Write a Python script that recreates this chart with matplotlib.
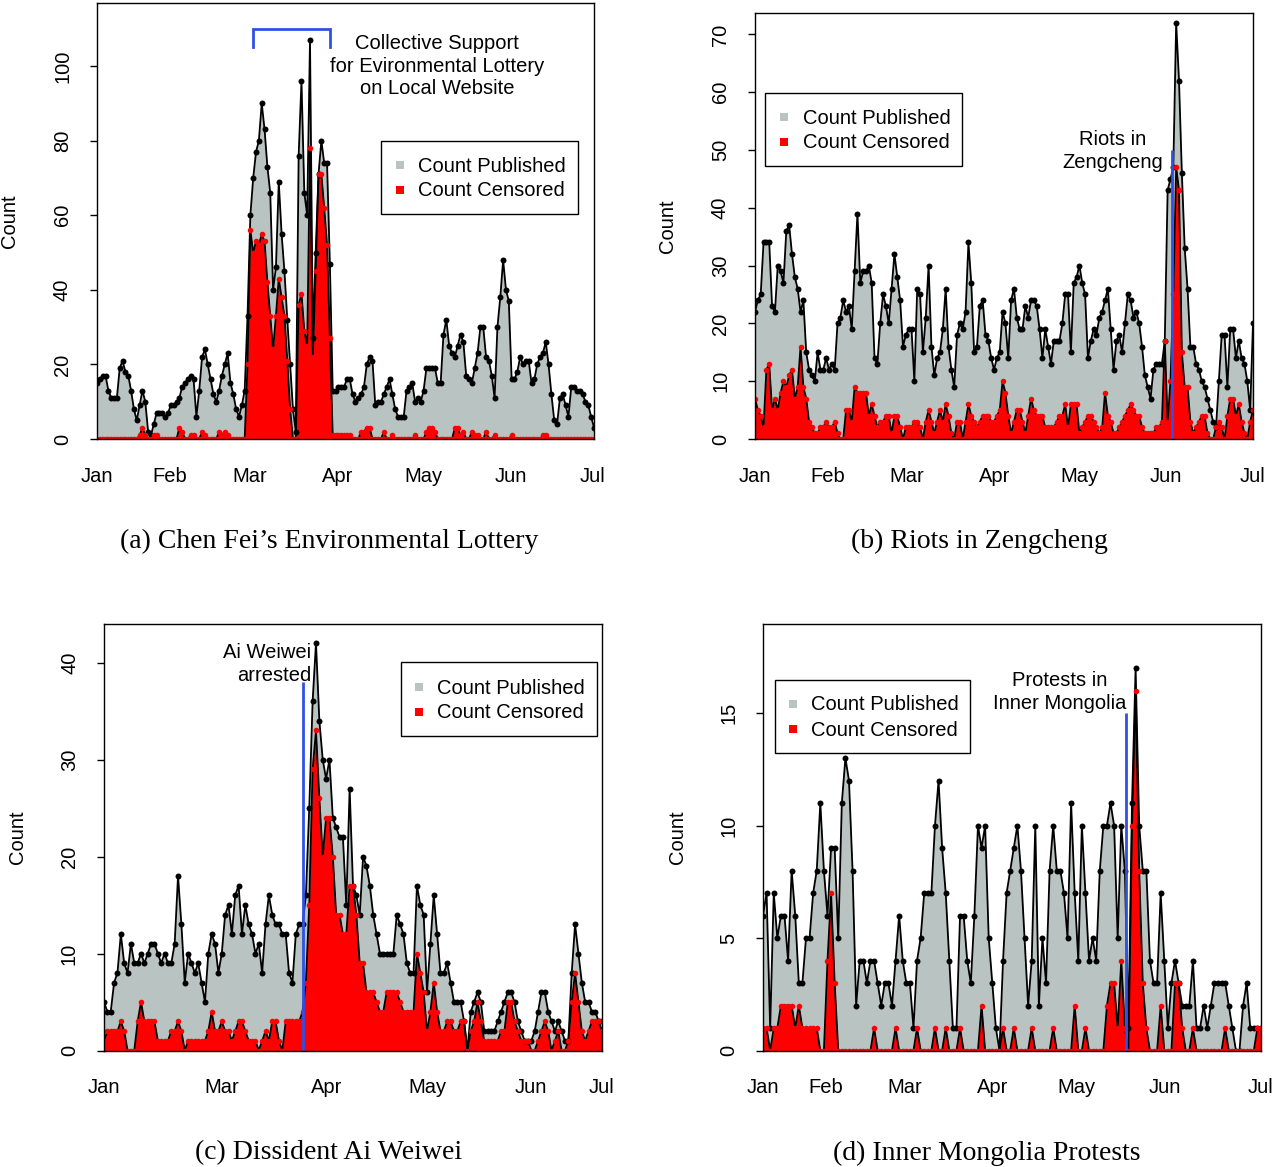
import numpy as np
import matplotlib
matplotlib.use("Agg")
import matplotlib.pyplot as plt
from matplotlib.lines import Line2D
from matplotlib.patches import Rectangle

# ---------------- data ----------------
a_published = [15,16,17,17,13,11,11,11,19,21, 18,17,13,8,5,9,13,10,2,1,
               4,7,7,7,6,7,9,9,10,11, 14,15,16,17,16,6,13,22,24,20,
               16,12,10,13,17,20,23,15,12,8, 6,9,13,33,60,70,77,80,90,83,
               73,66,40,46,69,55,45,32,20,8, 2,76,96,66,60,107,27,50,71,80,
               74,74,47,13,13,14,14,14,16,16, 12,10,11,12,14,20,22,21,9,10,
               10,12,14,16,12,8,6,6,6,13, 14,15,10,11,10,13,19,19,19,19,
               15,15,28,32,25,23,22,25,28,26, 17,16,15,19,23,30,30,22,21,17,
               11,30,38,48,40,37,16,16,18,22, 20,21,21,15,16,20,22,23,26,20,
               12,5,4,11,12,9,6,14,14,13, 13,12,10,9,6,3]
a_censored = [0,0,0,0,0,0,0,0,0,0, 0,0,0,0,0,1,3,1,0,0,
              1,1,0,0,0,0,0,0,0,3, 2,0,0,1,1,0,0,2,1,0,
              0,0,0,2,1,2,1,0,0,0, 0,0,0,20,56,50,53,52,55,53,
              42,33,24,33,43,38,33,21,8,0, 0,36,39,29,25,78,22,45,71,71,
              62,52,27,1,1,1,1,1,1,1, 0,0,0,2,2,3,3,0,0,0,
              0,2,0,0,1,0,0,0,0,0, 0,0,1,0,0,0,2,3,3,2,
              0,0,0,0,0,0,3,3,1,2, 0,0,2,1,1,0,0,2,0,0,
              1,0,0,0,0,0,1,0,0,0, 0,0,0,0,0,0,0,1,1,0,
              0,0,0,0,0,0,0,0,0,0, 0,0,0,0,0,0]

b_published = [22,24,25,34,34,34,23,22,30,29, 27,36,37,32,28,26,22,24,15,12,
               11,10,15,12,12,14,12,13,12,20, 21,24,22,23,19,29,39,27,29,29,
               30,27,14,13,20,25,23,20,26,32, 28,24,16,18,19,19,10,26,25,15,
               21,30,16,11,14,15,19,26,16,12, 9,18,20,19,22,34,27,15,16,23,
               24,18,17,14,12,14,15,22,20,14, 24,26,21,19,19,23,21,24,24,23,
               19,14,19,16,13,17,17,17,20,25, 25,15,27,28,30,27,25,14,17,19,
               18,21,22,24,26,19,12,17,18,15, 20,25,24,21,22,20,16,11,9,7,
               12,13,13,13,17,43,45,47,72,62, 46,33,26,16,16,13,12,10,9,7,
               5,3,2,10,18,18,9,19,19,14, 17,14,13,10,5,20]
b_censored = [7,5,4,2,12,13,5,7,5,8, 10,9,11,12,7,9,16,9,7,3,
              2,1,1,2,2,3,2,2,3,1, 0,0,5,5,3,9,8,8,8,8,
              4,6,4,2,3,3,4,4,1,4, 4,2,0,2,2,2,3,3,2,0,
              3,5,3,1,3,5,3,6,4,1, 0,3,3,0,3,6,4,3,2,3,
              4,4,4,3,3,4,5,10,8,4, 1,3,5,5,3,1,4,7,5,4,
              4,4,2,2,2,2,3,4,4,6, 2,6,6,6,1,2,3,4,4,3,
              2,1,2,8,4,3,1,1,2,3, 4,5,6,5,4,4,2,1,1,1,
              1,2,2,3,17,3,10,25,47,43, 15,9,9,3,1,2,3,4,4,1,
              0,0,2,3,2,0,4,7,7,4, 6,3,1,0,3,5]

c_published = [5,4,4,7,8,12,9,8,11,9, 9,10,9,10,11,11,10,9,10,9,
               9,11,18,13,7,10,9,8,9,7, 5,10,12,11,8,10,14,15,12,16,
               17,12,15,13,12,10,11,8,13,16, 14,13,13,12,12,8,7,12,13,13,
               16,25,36,42,34,30,28,30,24,23, 22,22,15,27,17,16,14,20,19,17,
               14,12,10,10,10,10,10,14,13,12, 9,8,8,17,15,14,6,11,16,12,
               8,8,9,7,5,5,5,3,0,4, 5,6,5,2,2,2,2,3,4,5,
               6,6,5,3,2,1,1,1,2,4, 6,6,4,3,2,3,2,1,1,8,
               13,10,7,5,5,4,4,3,3]
c_censored = [1,2,2,2,2,3,2,0,0,0, 3,5,3,3,3,3,1,1,1,1,
              2,2,3,2,0,1,1,1,1,1, 1,2,4,2,2,3,2,2,1,2,
              3,3,2,1,1,1,0,1,2,1, 3,3,1,0,3,3,3,3,3,4,
              7,15,29,33,26,20,24,24,20,14, 14,12,12,17,17,14,9,9,6,6,
              6,5,4,4,6,6,6,6,5,4, 4,4,4,10,8,6,2,4,7,4,
              2,2,3,3,2,2,3,3,0,2, 3,5,3,1,1,1,1,1,2,2,
              5,5,3,2,1,1,1,0,0,1, 2,3,2,0,1,2,0,0,1,5,
              8,5,2,1,2,3,3,3,2]

d_published = [6,7,1,7,5,6,6,4,8,6, 3,3,5,5,7,8,11,8,6,9,
               9,5,11,13,12,8,2,4,4,3, 4,4,3,2,3,3,2,4,6,4,
               3,3,1,4,5,7,7,7,10,12, 9,7,4,1,1,6,6,4,3,6,
               10,9,10,5,3,1,0,4,7,8, 9,10,8,5,2,4,10,2,5,3,
               8,10,8,8,7,5,11,7,4,10, 7,4,5,4,8,10,10,11,10,5,
               10,8,1,11,17,10,8,8,4,3, 3,7,4,1,3,4,3,2,2,2,
               4,1,1,2,1,2,3,3,3,3, 2,1,0,0,2,3,1,1,1,1]
d_censored = [1,1,0,1,1,2,2,2,2,1, 2,1,1,1,1,1,0,0,4,7,
              3,0,0,0,0,0,0,0,0,0, 0,1,0,0,0,0,0,1,0,0,
              0,0,0,1,0,0,0,0,1,0, 0,1,0,0,0,1,0,0,0,0,
              0,2,0,0,0,0,0,1,0,0, 1,0,0,0,0,1,0,0,0,0,
              0,1,0,0,0,0,0,2,0,0, 1,0,0,0,0,0,2,3,3,1,
              4,1,0,10,16,8,3,1,0,0, 0,2,0,0,0,3,3,1,0,0,
              1,0,0,0,0,0,0,0,0,1, 0,0,0,0,0,0,0,0,1,1]

# month starts expressed as observation index
a_month_idx = [0, 25.7, 53.9, 84.9, 114.8, 145.8, 174.6]
b_month_idx = [0, 25.7, 53.4, 84.3, 113.9, 144.5, 175]
c_month_idx = [0, 35.1, 66.3, 96.0, 126.9, 148]
d_month_idx = [0, 17.6, 39.6, 64.2, 87.6, 112.2, 139]
months_full = ["Jan", "Feb", "Mar", "Apr", "May", "Jun", "Jul"]
months_c = ["Jan", "Mar", "Apr", "May", "Jun", "Jul"]

a_yticks = [0, 20, 40, 60, 80, 100]
b_yticks = [0, 10, 20, 30, 40, 50, 60, 70]
c_yticks = [0, 10, 20, 30, 40]
d_yticks = [0, 5, 10, 15]

# events (observation index, line height)
a_bracket = (54.8, 82.0, 110, 105)
b_event = (146.5, 50)
c_event = (59.1, 38)
d_event = (101.3, 15)

captions = ["(a) Chen Fei\u2019s Environmental Lottery", "(b) Riots in Zengcheng",
            "(c) Dissident Ai Weiwei", "(d) Inner Mongolia Protests"]
legend_labels = ["Count Published", "Count Censored"]

# ---------------- style ----------------
W, H = 1275, 1167
GREY = "#B9C3C1"
RED = "#FF0000"
BLUE = "#3050E6"
FS = 14.5
SANS = ["Liberation Sans", "DejaVu Sans"]
SERIF = ["Liberation Serif", "DejaVu Serif"]
plt.rcParams["font.family"] = SANS

fig = plt.figure(figsize=(W / 100, H / 100), dpi=100)


def fx(px):
    return px / W


def fy(py):
    return 1 - py / H


def panel(box, pub, cen, ymax, yticks, midx, mlab):
    l, t, r, b = box
    ax = fig.add_axes([fx(l), fy(b), (r - l) / W, (b - t) / H])
    x = np.arange(len(pub))
    pub = np.asarray(pub, float)
    cen = np.asarray(cen, float)
    ax.fill_between(x, 0, pub, color=GREY, lw=0, zorder=1)
    ax.fill_between(x, 0, cen, color=RED, lw=0, zorder=2)
    ax.plot(x, cen, color="black", lw=1.3, zorder=3)
    ax.plot(x, pub, color="black", lw=1.3, zorder=4)
    ax.plot(x, pub, "o", color="black", ms=4.3, mew=0, zorder=5)
    ax.plot(x, cen, "o", color=RED, ms=4.0, mew=0, zorder=6)
    ax.set_xlim(0, len(pub) - 1)
    ax.set_ylim(0, ymax)
    ax.set_yticks(yticks)
    ax.set_yticklabels([str(v) for v in yticks])
    ax.tick_params(axis="y", length=5, width=1.0, pad=13, labelsize=FS)
    for lab in ax.get_yticklabels():
        lab.set_rotation(90)
        lab.set_va("center")
        lab.set_ha("right")
    ax.set_xticks(midx)
    ax.set_xticklabels(mlab)
    ax.tick_params(axis="x", length=0, pad=20, labelsize=FS)
    for s in ax.spines.values():
        s.set_linewidth(1.0)
        s.set_zorder(10)
    return ax


def legend(box, mx, tx, rows):
    l, t, r, b = box
    fig.add_artist(Rectangle((fx(l), fy(b)), (r - l) / W, (b - t) / H,
                             transform=fig.transFigure, facecolor="white",
                             edgecolor="black", lw=1.0, zorder=20))
    for col, yy, lab in zip([GREY, RED], rows, legend_labels):
        fig.add_artist(Line2D([fx(mx)], [fy(yy)], marker="s", ms=5.5, mew=0,
                              color=col, ls="none", transform=fig.transFigure,
                              zorder=21))
        fig.text(fx(tx), fy(yy + 1), lab, ha="left", va="center", fontsize=FS,
                 zorder=21)


axa = panel((97, 3, 594, 439), a_published, a_censored, 116.9, a_yticks,
            a_month_idx, months_full)
axb = panel((755, 13, 1253, 439), b_published, b_censored, 73.7, b_yticks,
            b_month_idx, months_full)
axc = panel((104, 624, 602, 1050.5), c_published, c_censored, 43.97, c_yticks,
            c_month_idx, months_c)
axd = panel((763, 624, 1261, 1050.5), d_published, d_censored, 18.96, d_yticks,
            d_month_idx, months_full)

# event markers
x0, x1, yt, yb = a_bracket
axa.plot([x0, x0, x1, x1], [yb, yt, yt, yb], color=BLUE, lw=2.0, zorder=7,
         solid_joinstyle="miter")
for ax, (ex, eh) in zip([axb, axc, axd], [b_event, c_event, d_event]):
    ax.vlines(ex, 0, eh, color=BLUE, lw=2.0, zorder=7)

# annotations
fig.text(fx(437), fy(66), "Collective Support\nfor Evironmental Lottery\non Local Website",
         ha="center", va="center", fontsize=FS, linespacing=1.25)
fig.text(fx(1113), fy(151), "Riots in\nZengcheng", ha="center", va="center",
         fontsize=FS, linespacing=1.25)
fig.text(fx(311), fy(664), "Ai Weiwei\narrested", ha="right", va="center",
         fontsize=FS, linespacing=1.25, multialignment="right")
fig.text(fx(1060), fy(692), "Protests in\nInner Mongolia", ha="center", va="center",
         fontsize=FS, linespacing=1.25)

# legends
legend((381, 141, 578, 214), 400, 418, (165, 190))
legend((765, 93, 962, 166), 784, 803, (117, 142))
legend((401, 662, 597, 736), 419, 437, (687, 712))
legend((775, 680, 970, 753), 793, 811, (704, 729))

# y labels
for (px, py) in [(10, 221), (668, 226), (18, 837), (677, 837)]:
    fig.text(fx(px), fy(py), "Count", rotation=90, ha="center", va="center",
             fontsize=FS)

# captions
for cap, (px, py) in zip(captions, [(329, 541), (979, 541), (329, 1153), (987, 1153)]):
    fig.text(fx(px), fy(py), cap, ha="center", va="center", fontsize=20,
             family=SERIF)

fig.savefig("out.png", dpi=100)
